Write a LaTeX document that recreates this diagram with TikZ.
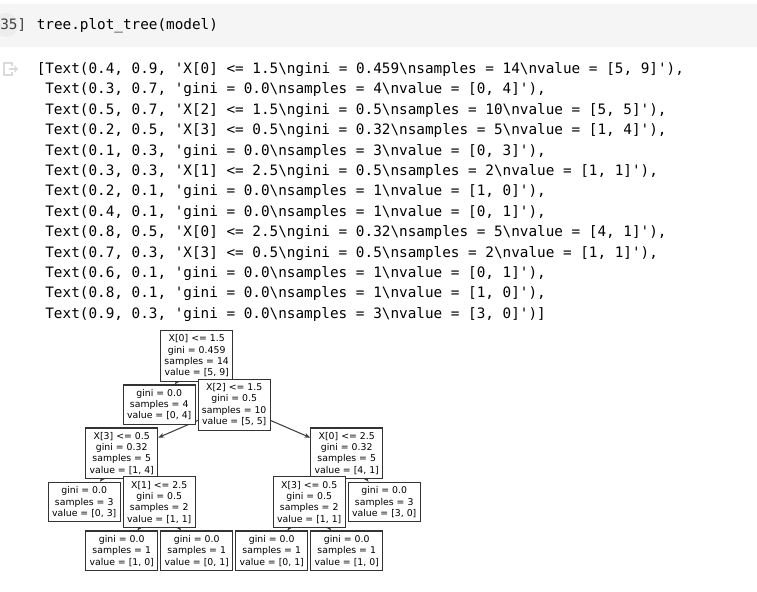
\documentclass[tikz,border=0pt]{standalone}
\usepackage{fontspec}
\setsansfont{DejaVu Sans}
\setmonofont{DejaVu Sans Mono}
\usetikzlibrary{arrows.meta,backgrounds}
\definecolor{cellgray}{HTML}{F5F5F5}
\definecolor{icongray}{HTML}{DADADA}
\newcommand{\bsn}{\textbackslash n}

\begin{document}
\begin{tikzpicture}[x=0.75pt, y=-0.75pt,
        code/.style={anchor=base west, inner sep=0pt, text=black,
            font=\ttfamily\fontsize{10.75}{12}\selectfont},
        treebox/.style={draw=black!80, line width=0.9pt, fill=white, align=center,
            inner xsep=2.8pt, inner ysep=3.2pt, text=black,
            font=\sffamily\fontsize{7}{8.5}\selectfont},
        link/.style={draw=black!75, line width=0.8pt, -{Stealth[length=4.5pt,width=3.6pt]}}]

        \useasboundingbox (0,0) rectangle (757,592);

        % code cell
        \fill[cellgray] (0,4) rectangle (757,47);
        \fill[black!7] (6,25) circle (9pt);
        \node[code, text=black!75] (prompt) at (0,30) {35]};
        \node[code] (call) at (36.5,30) {tree.plot\_tree(model)};

        % output icon
        \draw[icongray, line width=0.9pt] (12,66) -- (12,63) -- (4,63) -- (4,75) -- (12,75) -- (12,72);
        \draw[icongray, line width=0.9pt, -{Straight Barb[length=2pt,width=4.5pt]}] (9,69) -- (18,69);

        %%%%%%%%%%%%%%%%%%%%%%%%%%%%%%
        \node[code] (c1) at (36.5,73.3) {[Text(0.4, 0.9, 'X[0] <= 1.5\bsn gini = 0.459\bsn samples = 14\bsn value = [5, 9]'),};
        \node[code] (c2) at (45.1,93.7) {Text(0.3, 0.7, 'gini = 0.0\bsn samples = 4\bsn value = [0, 4]'),};
        \node[code] (c3) at (45.1,114.1) {Text(0.5, 0.7, 'X[2] <= 1.5\bsn gini = 0.5\bsn samples = 10\bsn value = [5, 5]'),};
        \node[code] (c4) at (45.1,134.6) {Text(0.2, 0.5, 'X[3] <= 0.5\bsn gini = 0.32\bsn samples = 5\bsn value = [1, 4]'),};
        \node[code] (c5) at (45.1,155.0) {Text(0.1, 0.3, 'gini = 0.0\bsn samples = 3\bsn value = [0, 3]'),};
        \node[code] (c6) at (45.1,175.4) {Text(0.3, 0.3, 'X[1] <= 2.5\bsn gini = 0.5\bsn samples = 2\bsn value = [1, 1]'),};
        \node[code] (c7) at (45.1,195.8) {Text(0.2, 0.1, 'gini = 0.0\bsn samples = 1\bsn value = [1, 0]'),};
        \node[code] (c8) at (45.1,216.2) {Text(0.4, 0.1, 'gini = 0.0\bsn samples = 1\bsn value = [0, 1]'),};
        \node[code] (c9) at (45.1,236.7) {Text(0.8, 0.5, 'X[0] <= 2.5\bsn gini = 0.32\bsn samples = 5\bsn value = [4, 1]'),};
        \node[code] (c10) at (45.1,257.1) {Text(0.7, 0.3, 'X[3] <= 0.5\bsn gini = 0.5\bsn samples = 2\bsn value = [1, 1]'),};
        \node[code] (c11) at (45.1,277.5) {Text(0.6, 0.1, 'gini = 0.0\bsn samples = 1\bsn value = [0, 1]'),};
        \node[code] (c12) at (45.1,297.9) {Text(0.8, 0.1, 'gini = 0.0\bsn samples = 1\bsn value = [1, 0]'),};
        \node[code] (c13) at (45.1,318.3) {Text(0.9, 0.3, 'gini = 0.0\bsn samples = 3\bsn value = [3, 0]')]};

        %%%%%%%%%%%%%%%%%%%%%%%%%%%%%%
        % tree plot, in the plot's own units
        \begin{scope}[shift={(35.03pt,-431.36pt)}, x=281.25pt, y=182.63pt]
            \node[treebox] (root) at (0.4,0.9) {X[0] <= 1.5\\gini = 0.459\\samples = 14\\value = [5, 9]};
            \node[treebox] (g4) at (0.3,0.7) {gini = 0.0\\samples = 4\\value = [0, 4]};
            \node[treebox] (x2) at (0.5,0.7) {X[2] <= 1.5\\gini = 0.5\\samples = 10\\value = [5, 5]};
            \node[treebox] (x3) at (0.2,0.5) {X[3] <= 0.5\\gini = 0.32\\samples = 5\\value = [1, 4]};
            \node[treebox] (g3) at (0.1,0.3) {gini = 0.0\\samples = 3\\value = [0, 3]};
            \node[treebox] (x1) at (0.3,0.3) {X[1] <= 2.5\\gini = 0.5\\samples = 2\\value = [1, 1]};
            \node[treebox] (lfa) at (0.2,0.1) {gini = 0.0\\samples = 1\\value = [1, 0]};
            \node[treebox] (lfb) at (0.4,0.1) {gini = 0.0\\samples = 1\\value = [0, 1]};
            \node[treebox] (x0b) at (0.8,0.5) {X[0] <= 2.5\\gini = 0.32\\samples = 5\\value = [4, 1]};
            \node[treebox] (x3b) at (0.7,0.3) {X[3] <= 0.5\\gini = 0.5\\samples = 2\\value = [1, 1]};
            \node[treebox] (lfc) at (0.6,0.1) {gini = 0.0\\samples = 1\\value = [0, 1]};
            \node[treebox] (lfd) at (0.8,0.1) {gini = 0.0\\samples = 1\\value = [1, 0]};
            \node[treebox] (g30) at (0.9,0.3) {gini = 0.0\\samples = 3\\value = [3, 0]};

            \begin{scope}[on background layer]
                \draw[link] (root.center) -- (g4);
                \draw[link] (root.center) -- (x2);
                \draw[link] (x2.center) -- (x3);
                \draw[link] (x2.center) -- (x0b);
                \draw[link] (x3.center) -- (g3);
                \draw[link] (x3.center) -- (x1);
                \draw[link] (x1.center) -- (lfa);
                \draw[link] (x1.center) -- (lfb);
                \draw[link] (x0b.center) -- (x3b);
                \draw[link] (x0b.center) -- (g30);
                \draw[link] (x3b.center) -- (lfc);
                \draw[link] (x3b.center) -- (lfd);
            \end{scope}
        \end{scope}
    \end{tikzpicture}
\end{document}
